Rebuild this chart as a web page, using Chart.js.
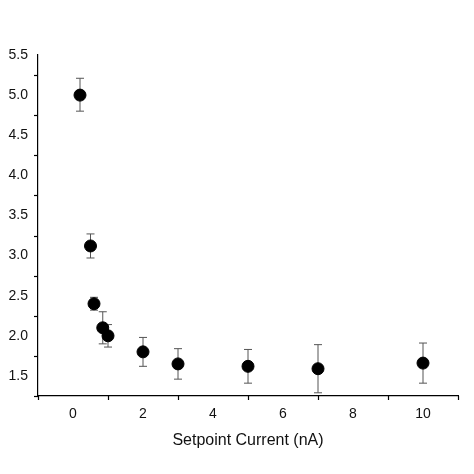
<!DOCTYPE html><html><head><script src="https://cdn.jsdelivr.net/npm/chart.js@4"></script>
<style>body{margin:0;background:#fff}#w{width:474px;height:474px}</style></head><body><div id="w"><canvas id="c"></canvas></div>
<script>
const xs=[0.2,0.5,0.6,0.85,1.0,2,3,5,7,10];
const ys=[5.0,3.12,2.4,2.1,2.0,1.8,1.65,1.62,1.59,1.66];
const errUp=[0.21,0.15,0.08,0.2,0.14,0.18,0.19,0.21,0.3,0.25];
const errDn=[0.2,0.15,0.08,0.2,0.14,0.18,0.19,0.21,0.3,0.25];
const xTicks=[0,2,4,6,8,10];
const yTicks=[1.5,2.0,2.5,3.0,3.5,4.0,4.5,5.0,5.5];
const F="'Liberation Sans', Arial, sans-serif";
const errPlugin={id:'err',beforeDatasetsDraw(ch){const c=ch.ctx,x=ch.scales.x,y=ch.scales.y;c.save();c.strokeStyle='#555';c.lineWidth=1;
xs.forEach((v,i)=>{const px=x.getPixelForValue(v),t=y.getPixelForValue(ys[i]+errUp[i]),b=y.getPixelForValue(ys[i]-errDn[i]);c.beginPath();c.moveTo(px,t);c.lineTo(px,b);c.moveTo(px-4,t);c.lineTo(px+4,t);c.moveTo(px-4,b);c.lineTo(px+4,b);c.stroke();});c.restore();}};
const minor={id:'minor',afterDraw(ch){const c=ch.ctx,x=ch.scales.x,y=ch.scales.y;c.save();c.strokeStyle='#000';c.lineWidth=1.2;
for(let v=-1;v<=11;v+=1){if(v%2===0)continue;const px=Math.round(x.getPixelForValue(v))+0.5;c.beginPath();c.moveTo(px,y.bottom);c.lineTo(px,y.bottom+4);c.stroke();}
for(let v=1.25;v<5.5;v+=0.5){const py=Math.round(y.getPixelForValue(v))+0.5;c.beginPath();c.moveTo(x.left,py);c.lineTo(x.left-4,py);c.stroke();}
c.restore();}};
new Chart(document.getElementById('c'),{type:'scatter',
data:{datasets:[{data:xs.map((v,i)=>({x:v,y:ys[i]})),backgroundColor:'#000',borderColor:'#000',pointRadius:6,pointHoverRadius:6}]},
options:{responsive:true,maintainAspectRatio:false,animation:false,
layout:{padding:{top:55,right:16,left:0,bottom:20}},
plugins:{legend:{display:false},tooltip:{enabled:false}},
scales:{
x:{type:'linear',min:-1,max:11,afterBuildTicks(a){a.ticks=xTicks.map(v=>({value:v}));},
grid:{display:false,drawTicks:true,tickLength:7,tickColor:'#000'},border:{color:'#000',width:1.2},
ticks:{color:'#111',font:{family:F,size:14},padding:3},
title:{display:true,text:'Setpoint Current (nA)',color:'#111',font:{family:F,size:16},padding:{top:5}}},
y:{type:'linear',min:1.25,max:5.5,afterBuildTicks(a){a.ticks=yTicks.map(v=>({value:v}));},afterFit(a){a.width=38;},
grid:{display:false,drawTicks:true,tickLength:7,tickColor:'#000'},border:{color:'#000',width:1.2},
ticks:{color:'#111',font:{family:F,size:14},padding:3,callback:v=>v.toFixed(1)}}}},
plugins:[errPlugin,minor]});
</script></body></html>
